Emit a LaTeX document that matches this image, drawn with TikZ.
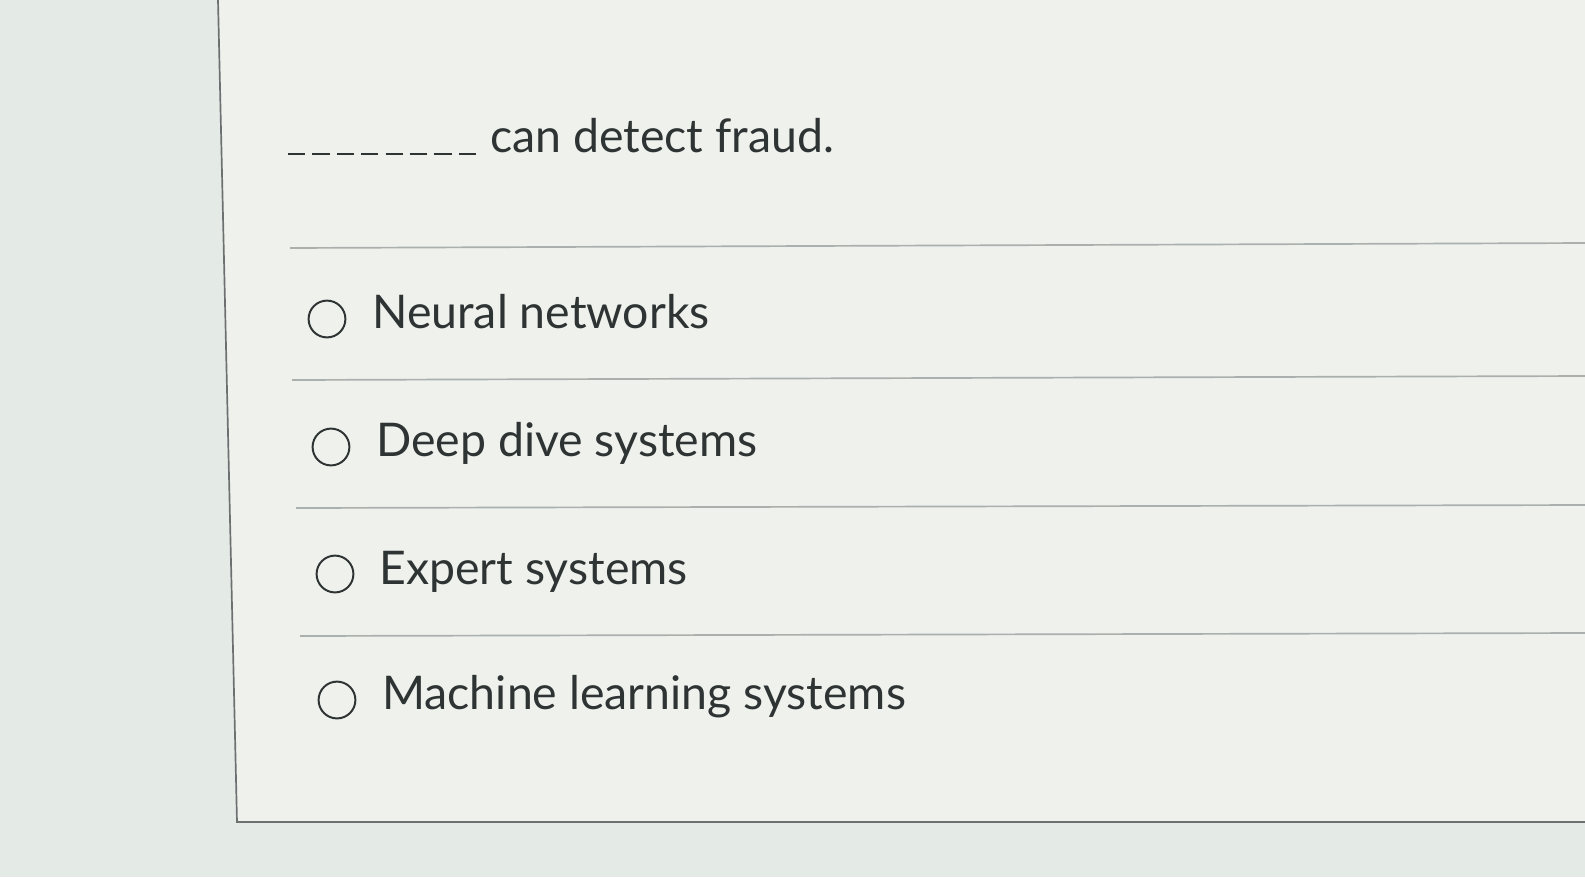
\documentclass[tikz,border=0pt]{standalone}
\usepackage{fontspec}
\setmainfont{Lato}
\definecolor{bg}{HTML}{E4EBE6}
\definecolor{panel}{HTML}{EEF1EC}
\definecolor{ink}{HTML}{2E3333}
\definecolor{rule}{HTML}{A9B0AE}
\begin{document}
\begin{tikzpicture}[x=0.025cm,y=-0.025cm,
  sep/.style={draw=rule,line width=1.2pt},
  radio/.style={circle,draw=ink,line width=1.4pt,minimum size=0.92cm,inner sep=0pt},
  opt/.style={anchor=base west,text=ink,font=\fontsize{33}{39}\selectfont,inner sep=0pt}]
\useasboundingbox (0,0) rectangle (1585,877);
\fill[bg] (0,0) rectangle (1585,877);
\fill[panel] (218,0) -- (1585,0) -- (1585,822) -- (237,822) -- cycle;
\draw[draw=ink!70,line width=1.2pt] (218,0) -- (237,822) -- (1585,822);
\node[opt] (q) at (490,152) {can detect fraud.};
\draw[ink,line width=1.6pt,dash pattern=on 0.43cm off 0.18cm] (288,154) -- (476,154);
\draw[sep] (290,248) -- (1585,243);
\draw[sep] (292,380) -- (1585,376);
\draw[sep] (296,508) -- (1585,505);
\draw[sep] (300,636) -- (1585,633);
\node[radio] (r1) at (327,319) {};
\node[radio] (r2) at (331,447) {};
\node[radio] (r3) at (335,574) {};
\node[radio] (r4) at (337,700) {};
\node[opt] (o1) at (372,328) {Neural networks};
\node[opt] (o2) at (376,456) {Deep dive systems};
\node[opt] (o3) at (379,584) {Expert systems};
\node[opt] (o4) at (382,709) {Machine learning systems};
\end{tikzpicture}
\end{document}
